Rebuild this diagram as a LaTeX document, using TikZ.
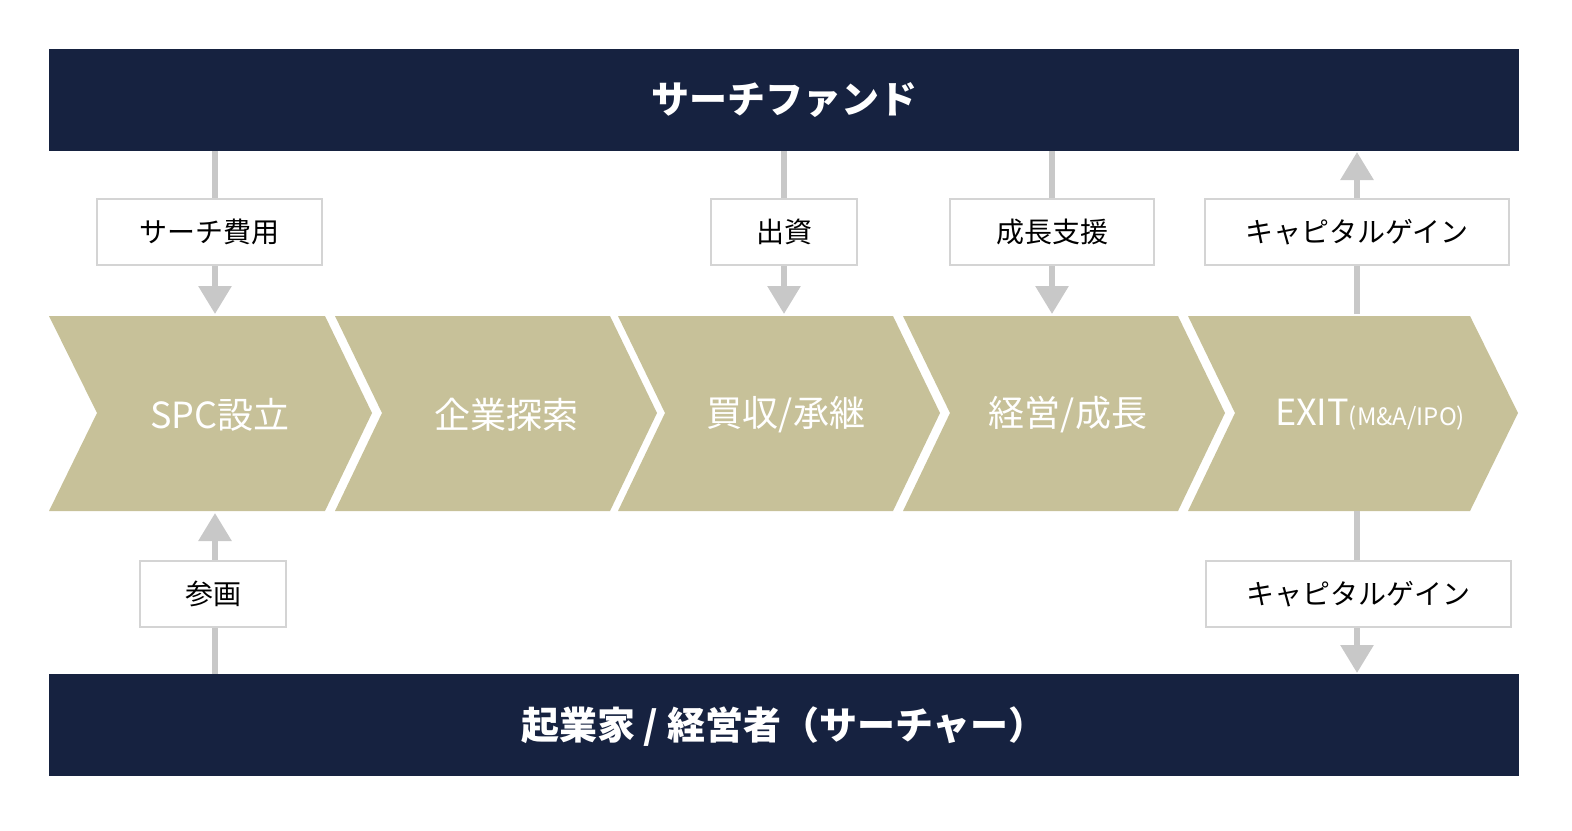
\documentclass[tikz,border=0pt]{standalone}
\usepackage{fontspec}
\setmainfont{Noto Sans CJK JP}
\usetikzlibrary{arrows.meta}
\definecolor{navy}{HTML}{162240}
\definecolor{khaki}{HTML}{C7C199}
\definecolor{arrowgray}{HTML}{C8C8C8}
\definecolor{boxline}{HTML}{D4D4D4}
\tikzset{
  bar/.style={fill=navy, draw=none},
  chev/.style={fill=khaki, draw=none},
  steptext/.style={text=white, font=\fontsize{18}{20}\selectfont},
  flow/.style={draw=arrowgray, line width=3pt, -{Triangle[width=16pt,length=14pt]}},
  tag/.style={draw=boxline, fill=white, line width=0.6pt, minimum height=33pt,
    font=\fontsize{14}{16}\selectfont, inner xsep=0pt}
}
\begin{document}
\begin{tikzpicture}[x=0.5pt,y=-0.5pt]
\useasboundingbox (0,0) rectangle (1572,830);

% bars
\fill[bar] (49,49) rectangle (1519,151);
\node[text=white, font=\fontsize{19}{21}\selectfont\bfseries] (fund) at (784,100) {サーチファンド};
\fill[bar] (49,674) rectangle (1519,776);
\node[text=white, font=\fontsize{19}{21}\selectfont\bfseries] (searcher) at (784,727) {起業家 / 経営者（サーチャー）};

% chevrons
\fill[chev] (49,316) -- (325,316) -- (372,413) -- (325,511) -- (49,511) -- (97,413) -- cycle;
\foreach \s/\e in {335/610, 618/893, 903/1178} {
  \fill[chev] (\s,316) -- (\e,316) -- (\e+47,413) -- (\e,511) -- (\s,511) -- (\s+47,413) -- cycle;
}
\fill[chev] (1188,316) -- (1470,316) -- (1518,413) -- (1470,511) -- (1188,511) -- (1235,413) -- cycle;

\node[steptext] (spc) at (220,415) {SPC設立};
\node[steptext] (search) at (506,415) {企業探索};
\node[steptext] (buy) at (786,415) {買収/承継};
\node[steptext] (grow) at (1068,415) {経営/成長};
\node[steptext] (exit) at (1370,415) {EXIT{\fontsize{12}{14}\selectfont(M\&A/IPO)}};

% arrows
\coordinate (a1) at (215,151); \coordinate (b1) at (215,314);
\coordinate (a2) at (784,151); \coordinate (b2) at (784,314);
\coordinate (a3) at (1052,151); \coordinate (b3) at (1052,314);
\coordinate (a4) at (1357,314); \coordinate (b4) at (1357,152);
\coordinate (a5) at (215,674); \coordinate (b5) at (215,513);
\coordinate (a6) at (1357,511); \coordinate (b6) at (1357,673);
\foreach \i in {1,...,6} \draw[flow] (a\i) -- (b\i);

% tags
\node[tag, minimum width=112.5pt] (cost) at (209.5,232) {サーチ費用};
\node[tag, minimum width=73pt] (invest) at (784,232) {出資};
\node[tag, minimum width=102pt] (support) at (1052,232) {成長支援};
\node[tag, minimum width=152pt] (gainup) at (1357,232) {キャピタルゲイン};
\node[tag, minimum width=73pt] (join) at (213,594) {参画};
\node[tag, minimum width=152.5pt] (gaindown) at (1358.5,594) {キャピタルゲイン};
\end{tikzpicture}
\end{document}
